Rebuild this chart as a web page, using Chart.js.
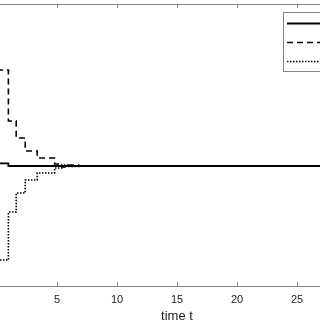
<!DOCTYPE html>
<html>
<head>
<meta charset="utf-8">
<script src="https://cdn.jsdelivr.net/npm/chart.js@4"></script>
<style>
html,body{margin:0;padding:0;background:#fff;overflow:hidden;width:320px;height:320px;}
#wrap{position:absolute;left:-30px;top:0;width:430px;height:330px;}
</style>
</head>
<body>
<div id="wrap"><canvas id="c" width="430" height="330"></canvas></div>
<script>
// time instants at which the step values change
const times = [0, 0.95, 1.6, 2.35, 3.35, 4.8, 5.4, 6.0, 6.8, 30];
// series values (held until the next time instant)
const series1 = [1.027, 1.0, 1.0, 1.0, 1.0, 1.0, 1.0, 1.0, 1.0, 1.0];
const series2 = [1.96, 1.45, 1.28, 1.15, 1.08, 1.02, 0.99, 1.01, 1.0, 1.0];
const series3 = [0.06, 0.54, 0.73, 0.86, 0.93, 0.98, 1.01, 0.995, 1.0, 1.0];
const seriesLabels = ['x1(t)', 'x2(t)', 'x3(t)'];
const xTicks = [0, 5, 10, 15, 20, 25, 30];
const xTitle = 'time t';

const toPts = (vals) => times.map((t, i) => ({x: t, y: vals[i]}));

const frameTicks = {
  id: 'frameTicks',
  afterDraw(chart) {
    const {ctx, chartArea: a, scales} = chart;
    const sx = scales.x;
    ctx.save();
    ctx.strokeStyle = '#858585';
    ctx.lineWidth = 1;
    ctx.beginPath();
    ctx.moveTo(a.left, a.top + 0.5); ctx.lineTo(a.right, a.top + 0.5);
    ctx.stroke();
    xTicks.forEach(v => {
      const px = Math.round(sx.getPixelForValue(v)) + 0.5;
      ctx.beginPath();
      ctx.moveTo(px, a.bottom); ctx.lineTo(px, a.bottom - 4);
      ctx.moveTo(px, a.top); ctx.lineTo(px, a.top + 4);
      ctx.stroke();
    });
    // legend box
    const bx = a.right - 74, by = a.top + 8, bw = 110, bh = 59;
    ctx.fillStyle = '#fff';
    ctx.fillRect(bx, by, bw, bh);
    ctx.strokeStyle = '#858585';
    ctx.strokeRect(bx + 0.5, by + 0.5, bw, bh);
    chart.data.datasets.forEach((ds, i) => {
      const ly = by + 11.5 + i * 19;
      ctx.strokeStyle = ds.borderColor;
      ctx.lineWidth = ds.borderWidth;
      ctx.setLineDash(ds.borderDash || []);
      ctx.beginPath();
      ctx.moveTo(bx + 4, ly); ctx.lineTo(bx + 44, ly);
      ctx.stroke();
      ctx.setLineDash([]);
      ctx.fillStyle = '#222';
      ctx.font = '11px "Liberation Sans", Arial, sans-serif';
      ctx.textBaseline = 'middle';
      ctx.fillText(ds.label, bx + 50, ly);
    });
    ctx.restore();
  }
};

new Chart(document.getElementById('c'), {
  type: 'line',
  data: {
    datasets: [
      {label: seriesLabels[0], data: toPts(series1), borderColor: '#000', borderWidth: 1.8, stepped: true, pointRadius: 0, fill: false},
      {label: seriesLabels[1], data: toPts(series2), borderColor: '#000', borderWidth: 1.6, borderDash: [6, 4], stepped: true, pointRadius: 0, fill: false},
      {label: seriesLabels[2], data: toPts(series3), borderColor: '#000', borderWidth: 1.6, borderDash: [1.5, 1.5], stepped: true, pointRadius: 0, fill: false}
    ]
  },
  options: {
    responsive: false,
    animation: false,
    devicePixelRatio: 1,
    layout: {padding: {left: 27, right: 43, top: 4, bottom: 0}},
    plugins: {legend: {display: false}, tooltip: {enabled: false}},
    scales: {
      x: {
        type: 'linear', min: 0, max: 30,
        afterBuildTicks: (s) => { s.ticks = xTicks.map(v => ({value: v})); },
        afterFit: (s) => { s.height = 44; },
        grid: {display: false, drawTicks: false},
        border: {display: true, color: '#858585', width: 1},
        ticks: {padding: 7, color: '#222', font: {family: '"Liberation Sans", Arial, sans-serif', size: 11}, maxRotation: 0, autoSkip: false},
        title: {display: true, text: xTitle, color: '#222', padding: {top: 0, bottom: 6}, font: {family: '"Liberation Sans", Arial, sans-serif', size: 13}}
      },
      y: {
        display: false, min: -0.2, max: 2.62
      }
    }
  },
  plugins: [frameTicks]
});
</script>
</body>
</html>
